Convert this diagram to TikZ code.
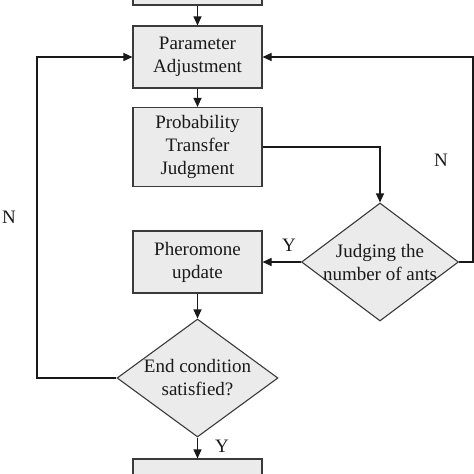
\documentclass[tikz,border=0pt]{standalone}
\usepackage{fontspec}
\setmainfont{Liberation Serif}
\usetikzlibrary{shapes.geometric,arrows.meta}
\definecolor{boxfill}{HTML}{EBEBEB}
\definecolor{boxline}{HTML}{3A3A3A}
\begin{document}
\begin{tikzpicture}[x=1pt,y=-1pt,
 txt/.style={font=\fontsize{19}{23}\selectfont,text=black!90},
 box/.style={draw=boxline,fill=boxfill,line width=1.1pt,minimum width=129pt,align=center,inner sep=0pt,txt},
 dbox/.style={draw=boxline,fill=boxfill,line width=1.1pt,diamond,inner sep=0pt},
 arr/.style={-{Triangle[length=9pt,width=8pt]},line width=1.1pt,draw=black!90}]
\useasboundingbox (0,0) rectangle (474,474);
\clip (0,0) rectangle (474,474);
\node[box,minimum height=50pt] (top) at (197.5,-20) {};
\node[box,minimum height=62pt] (pa) at (197.5,57) {Parameter\\Adjustment};
\node[box,minimum height=79pt] (ptj) at (197.5,147) {Probability\\Transfer\\Judgment};
\node[dbox,minimum width=157pt,minimum height=118pt] (ja) at (380,262) {};
\node[txt,align=center,inner sep=0pt] (jat) at (380,262) {Judging the\\number of ants};
\node[box,minimum height=62pt] (pu) at (197.5,262) {Pheromone\\update};
\node[dbox,minimum width=161pt,minimum height=118pt] (ec) at (197.5,378) {};
\node[txt,align=center,inner sep=0pt] (ect) at (197.5,378) {End condition\\satisfied?};
\node[box,minimum height=50pt] (bot) at (197.5,484) {};
\coordinate (r1) at (473,262);
\coordinate (r2) at (473,57);
\coordinate (l1) at (37,378);
\coordinate (l2) at (37,57);
\draw[arr] (top) -- (pa);
\draw[arr] (pa) -- (ptj);
\draw[arr] (ptj.east) -| (ja.north);
\draw[arr] (ja.west) -- (pu.east);
\draw[arr] (ja.east) -- (r1) -- (r2) -- (pa.east);
\draw[arr] (pu) -- (ec.north);
\draw[arr] (ec.west) -- (l1) -- (l2) -- (pa.west);
\draw[arr] (ec.south) -- (bot);
\node[txt] (n1) at (441,160) {N};
\node[txt] (y1) at (289,245) {Y};
\node[txt] (n2) at (9,217) {N};
\node[txt] (y2) at (222,446) {Y};
\end{tikzpicture}
\end{document}
